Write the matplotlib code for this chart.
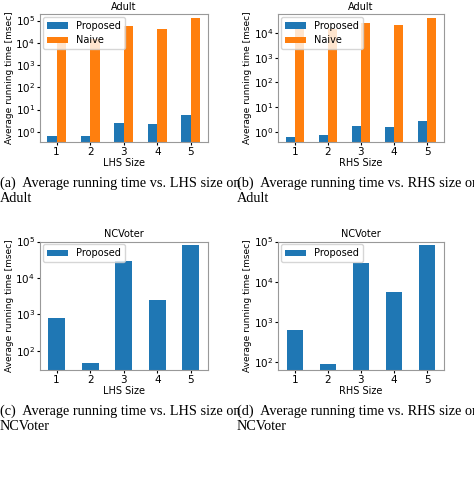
import matplotlib.pyplot as plt
import numpy as np

sizes = [1, 2, 3, 4, 5]
adult_lhs_proposed = [0.62, 0.66, 2.6, 2.2, 6.0]
adult_lhs_naive = [15000, 15000, 55000, 42000, 130000]
adult_rhs_proposed = [0.62, 0.72, 1.65, 1.5, 2.8]
adult_rhs_naive = [15000, 15000, 25000, 21000, 40000]
nc_lhs_proposed = [800, 45, 30000, 2500, 80000]
nc_rhs_proposed = [650, 90, 30000, 5500, 80000]

BLUE = '#1f77b4'
ORANGE = '#ff7f0e'

fig = plt.figure(figsize=(4.74, 4.93), dpi=100)


def style(ax, title, xlabel, ylim):
    ax.set_yscale('log')
    ax.set_ylim(*ylim)
    ax.set_title(title, fontsize=7, pad=3)
    ax.set_xlabel(xlabel, fontsize=7, labelpad=1)
    ax.set_ylabel('Average running time [msec]', fontsize=6.5, labelpad=1)
    ax.set_xticks(range(len(sizes)))
    ax.set_xticklabels(sizes)
    ax.tick_params(labelsize=7.5, pad=1, length=2.5)
    ax.minorticks_off()
    ax.set_yticks([t for t in [1e0, 1e1, 1e2, 1e3, 1e4, 1e5] if ylim[0] <= t <= ylim[1] * 1.1])
    for s in ax.spines.values():
        s.set_color('#999999')


def grouped(ax, prop, naive):
    x = np.arange(len(sizes))
    ax.bar(x - 0.14, prop, 0.28, color=BLUE, label='Proposed')
    ax.bar(x + 0.14, naive, 0.28, color=ORANGE, label='Naive')
    ax.set_xlim(-0.5, 4.5)
    ax.legend(fontsize=7, loc='upper left', borderaxespad=0.3, handlelength=2.2)


def single(ax, prop):
    x = np.arange(len(sizes))
    ax.bar(x, prop, 0.5, color=BLUE, label='Proposed')
    ax.set_xlim(-0.5, 4.5)
    ax.legend(fontsize=7, loc='upper left', borderaxespad=0.3, handlelength=2.2)


axa = fig.add_axes([0.084, 0.712, 0.354, 0.26])
grouped(axa, adult_lhs_proposed, adult_lhs_naive)
style(axa, 'Adult', 'LHS Size', (0.35, 2e5))

axb = fig.add_axes([0.587, 0.712, 0.349, 0.26])
grouped(axb, adult_rhs_proposed, adult_rhs_naive)
style(axb, 'Adult', 'RHS Size', (0.38, 6e4))

axc = fig.add_axes([0.084, 0.25, 0.354, 0.26])
single(axc, nc_lhs_proposed)
style(axc, 'NCVoter', 'LHS Size', (30, 1e5))

axd = fig.add_axes([0.587, 0.25, 0.349, 0.26])
single(axd, nc_rhs_proposed)
style(axd, 'NCVoter', 'RHS Size', (65, 1e5))

cap = dict(fontsize=10.3, family='Liberation Serif', va='top')
fig.text(0.0, 0.642, '(a)  Average running time vs. LHS size on\nAdult', **cap)
fig.text(0.5, 0.642, '(b)  Average running time vs. RHS size on\nAdult', **cap)
fig.text(0.0, 0.18, '(c)  Average running time vs. LHS size on\nNCVoter', **cap)
fig.text(0.5, 0.18, '(d)  Average running time vs. RHS size on\nNCVoter', **cap)

fig.savefig('out.png', dpi=100)
